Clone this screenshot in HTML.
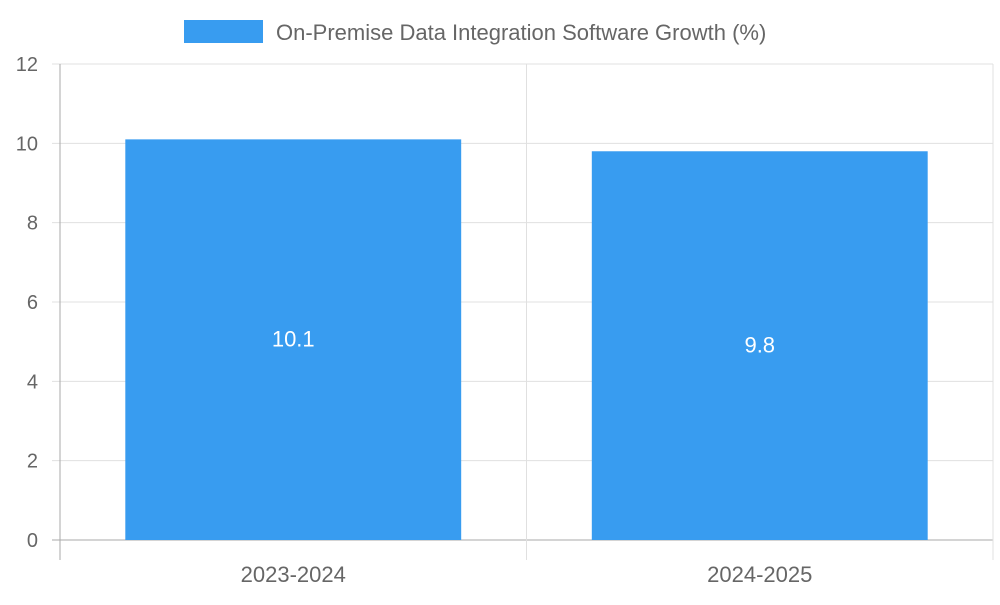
<!DOCTYPE html>
<html><head><meta charset="utf-8"><style>
body{margin:0;background:#fff;}
svg text{font-family:"Liberation Sans",sans-serif;}
</style></head><body>
<svg id="chart" width="1000" height="600" xmlns="http://www.w3.org/2000/svg">
<g>
<rect x="184" y="20" width="79" height="23" fill="#389cf0"/>
<text x="276" y="40" font-size="22" fill="#666">On-Premise Data Integration Software Growth (%)</text>
</g>
<g id="grid"></g><g id="bars"></g><g id="labels"></g>
</svg>
<script>
const categories = ["2023-2024", "2024-2025"];
const values = [10.1, 9.8];
const yTicks = [0, 2, 4, 6, 8, 10, 12];
const NS = "http://www.w3.org/2000/svg";
const L = 60, R = 993, T = 64, B = 540, yMax = 12;
const y = v => B - (v / yMax) * (B - T);
const cw = (R - L) / categories.length;
const x = i => L + cw * i;
function mk(tag, attrs, parent, text) {
  const e = document.createElementNS(NS, tag);
  for (const k in attrs) e.setAttribute(k, attrs[k]);
  if (text !== undefined) e.textContent = text;
  parent.appendChild(e);
  return e;
}
const grid = document.getElementById('grid');
yTicks.forEach(t => {
  const ln = mk('line', {x1: 52, x2: R, y1: y(t), y2: y(t), stroke: t === 0 ? '#aaa' : '#e0e0e0', 'stroke-width': 1}, grid);
  
  
  const tx = mk('text', {x: 38, y: y(t) + 7, 'font-size': 20, fill: '#666', 'text-anchor': 'end'}, grid, t);
  
  
});
for (let i = 0; i <= categories.length; i++) {
  const ln = mk('line', {x1: x(i), x2: x(i), y1: T, y2: B + 20, stroke: i === 0 ? '#aaa' : '#e0e0e0', 'stroke-width': 1}, grid);
  
  
}
const bars = document.getElementById('bars'), labels = document.getElementById('labels');
categories.forEach((c, i) => {
  const bw = cw * 0.72, bx = x(i) + (cw - bw) / 2;
  const r = mk('rect', {x: bx, y: y(values[i]), width: bw, height: B - y(values[i]), fill: '#389cf0'}, bars);
  
  
  const v = mk('text', {x: bx + bw / 2, y: (y(values[i]) + B) / 2 + 7, 'font-size': 22, fill: '#fff', 'text-anchor': 'middle'}, labels, values[i]);
  
  
  const xl = mk('text', {x: x(i) + cw / 2, y: 582, 'font-size': 22, fill: '#666', 'text-anchor': 'middle'}, labels, c);
  
  
});
</script>
</body></html>
